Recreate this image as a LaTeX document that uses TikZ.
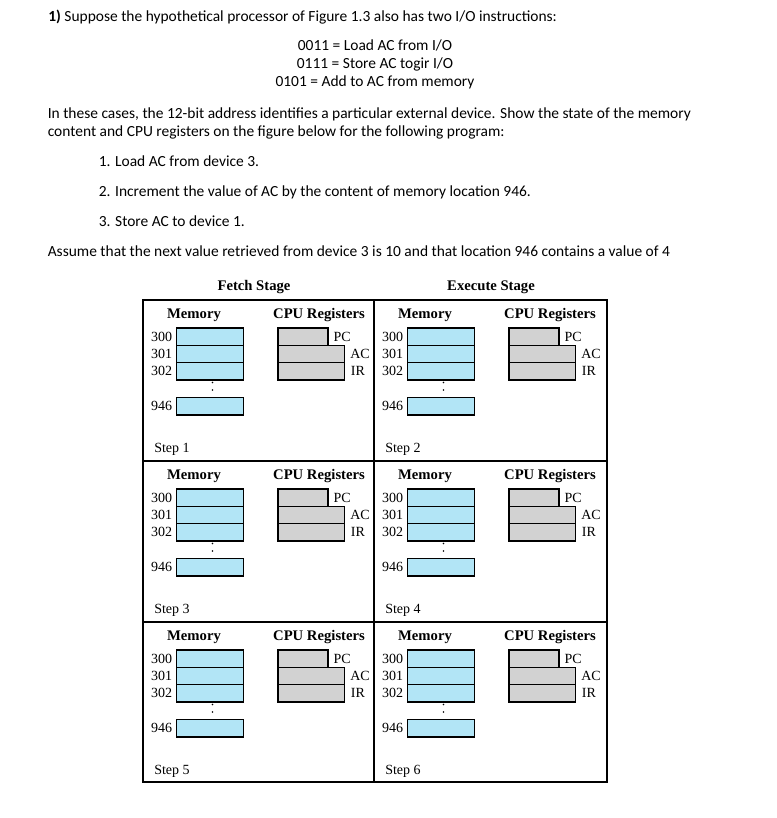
\documentclass[tikz,border=0pt]{standalone}
\usepackage{fontspec}
\setmainfont{Liberation Serif}
\newfontfamily\calfont{Carlito}
\definecolor{memblue}{RGB}{178,229,246}
\definecolor{reggray}{RGB}{210,210,210}
\tikzset{
  txt/.style={inner sep=0pt, anchor=base west, font=\calfont\fontsize{11.6}{13}\selectfont},
  ctxt/.style={inner sep=0pt, anchor=base, font=\calfont\fontsize{11.6}{13}\selectfont},
  stagehdr/.style={inner sep=0pt, anchor=base, font=\fontsize{11}{13}\selectfont\bfseries},
  colhdr/.style={inner sep=0pt, anchor=base, font=\fontsize{11}{13}\selectfont\bfseries},
  addr/.style={inner sep=0pt, anchor=base east, font=\fontsize{10.5}{12}\selectfont},
  reglbl/.style={inner sep=0pt, anchor=base west, font=\fontsize{10.5}{12}\selectfont},
  steplbl/.style={inner sep=0pt, anchor=base west, font=\fontsize{10.5}{12}\selectfont},
  memcell/.style={draw=black, line width=1.1pt, fill=memblue, anchor=north west, inner sep=0pt,
     minimum width=50.25pt, minimum height=13pt},
  regbox/.style={draw=black, line width=1.1pt, fill=reggray, anchor=north west, inner sep=0pt,
     minimum height=13pt},
  dotmark/.style={circle, fill=black, inner sep=0pt, minimum size=1.4pt},
  frame/.style={draw=black, line width=1.7pt},
  divider/.style={draw=black, line width=1.3pt}
}
\begin{document}
\begin{tikzpicture}[x=0.75pt,y=-0.75pt]
\useasboundingbox (0,0) rectangle (777,818);
\fill[white] (0,0) rectangle (777,818);

% question text
\node[txt] (q1) at (48,21) {\textbf{1)} Suppose the hypothetical processor of Figure 1.3 also has two I/O instructions:};
\node[ctxt] (i1) at (375,50) {0011 = Load AC from I/O};
\node[ctxt] (i2) at (375,68.3) {0111 = Store AC togir I/O};
\node[ctxt] (i3) at (375,86.6) {0101 = Add to AC from memory};
\node[txt] (p1) at (47.5,118.3) {In these cases, the 12-bit address identifies a particular external device. Show the state of the memory};
\node[txt] (p2) at (47.5,136.7) {content and CPU registers on the figure below for the following program:};
\node[txt] (l1) at (98.5,166.7) {1. Load AC from device 3.};
\node[txt] (l2) at (98.5,196.7) {2. Increment the value of AC by the content of memory location 946.};
\node[txt] (l3) at (98.5,226.7) {3. Store AC to device 1.};
\node[txt] (as) at (47.5,256.7) {Assume that the next value retrieved from device 3 is 10 and that location 946 contains a value of 4};

% stage headers
\node[stagehdr] (fetch) at (254,290) {Fetch Stage};
\node[stagehdr] (exec) at (491,290) {Execute Stage};

% cells
\foreach \X/\Y/\s in {143/300/1, 374/300/2, 143/461/3, 374/461/4, 143/622/5, 374/622/6}{
  \begin{scope}[shift={(\X,\Y)}]
    \node[colhdr] (memt\s) at (51,18.5) {Memory};
    \node[memcell] (m300-\s) at (33,27.3) {};
    \node[memcell] (m301-\s) at (33,44.6) {};
    \node[memcell] (m302-\s) at (33,61.9) {};
    \node[memcell] (m946-\s) at (33,96.7) {};
    \node[addr] (a300-\s) at (29.5,41) {300};
    \node[addr] (a301-\s) at (29.5,58.3) {301};
    \node[addr] (a302-\s) at (29.5,75.6) {302};
    \node[addr] (a946-\s) at (29.5,110.5) {946};
    \node[dotmark] (dA-\s) at (69.5,82.5) {};
    \node[dotmark] (dB-\s) at (69.5,90) {};
    \node[colhdr] (cput\s) at (176,18.5) {CPU Registers};
    \node[regbox, minimum width=37.5pt] (pc-\s) at (134.3,27.3) {};
    \node[regbox, minimum width=50pt] (ac-\s) at (134.3,44.6) {};
    \node[regbox, minimum width=50pt] (ir-\s) at (134.3,61.9) {};
    \node[reglbl] (pcl-\s) at (190.3,41) {PC};
    \node[reglbl] (acl-\s) at (207,58.3) {AC};
    \node[reglbl] (irl-\s) at (207.7,75.6) {IR};
    \node[steplbl] (step-\s) at (11,152.7) {Step \s};
  \end{scope}
}

% grid
\draw[divider] (374,300) -- (374,782);
\draw[divider] (143,461) -- (607,461);
\draw[divider] (143,622) -- (607,622);
\draw[frame] (143,300) rectangle (607,782);
\end{tikzpicture}
\end{document}
